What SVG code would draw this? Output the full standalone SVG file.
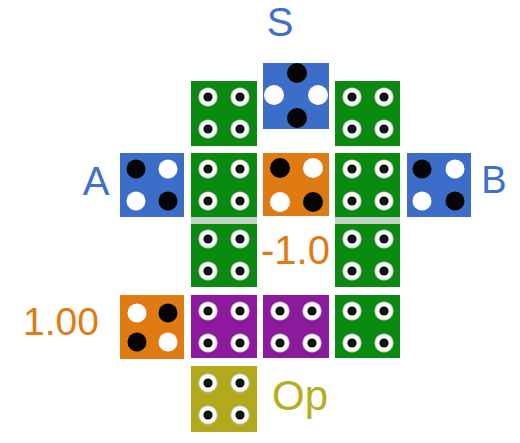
<svg xmlns="http://www.w3.org/2000/svg" xmlns:xlink="http://www.w3.org/1999/xlink" width="520" height="443" viewBox="0 0 520 443">
<style>
.green{fill:#0b8a10}
.purple{fill:#8c1a9c}
.olive{fill:#b2aa1c}
.orange{fill:#e07a12}
.blue{fill:#3c6ec9}
.lbl{font-family:"Liberation Sans",Arial,sans-serif}
.tb{fill:#3f6fcf}
.to{fill:#e07b14}
.tol{fill:#b5ae1e}
.bk{fill:#050505}
.wh{fill:#ffffff}
</style>
<defs>
<g id="hole">
<circle r="9.6" fill="#cfd8cf"/>
<circle r="8.4" fill="#ffffff"/>
<circle r="4.6" fill="#111111"/>
</g>
<g id="holes4">
<use xlink:href="#hole" href="#hole" x="17" y="16"/>
<use xlink:href="#hole" href="#hole" x="49" y="16"/>
<use xlink:href="#hole" href="#hole" x="17" y="48"/>
<use xlink:href="#hole" href="#hole" x="49" y="48"/>
</g>
</defs>
<rect width="520" height="443" fill="#ffffff"/>
<!-- gap strips -->
<rect x="191" y="216" width="66" height="8" fill="#c4d4c4"/>
<rect x="335" y="216" width="65" height="8" fill="#c4d4c4"/>
<text class="lbl to" x="261" y="264" font-size="40">-1.0</text>
<g id="g11"><rect class="green" x="191" y="81" width="66" height="65"/><use xlink:href="#holes4" href="#holes4" x="191" y="81"/></g>
<g id="g13"><rect class="green" x="335" y="81" width="65" height="65"/><use xlink:href="#holes4" href="#holes4" x="335" y="81"/></g>
<g id="g21"><rect class="green" x="191" y="153" width="66" height="64"/><use xlink:href="#holes4" href="#holes4" x="191" y="153"/></g>
<g id="g23"><rect class="green" x="335" y="153" width="65" height="64"/><use xlink:href="#holes4" href="#holes4" x="335" y="153"/></g>
<g id="g31"><rect class="green" x="191" y="224" width="66" height="63"/><use xlink:href="#holes4" href="#holes4" x="191" y="223"/></g>
<g id="g33"><rect class="green" x="335" y="224" width="65" height="63"/><use xlink:href="#holes4" href="#holes4" x="335" y="223"/></g>
<g id="g43"><rect class="green" x="335" y="295" width="65" height="63"/><use xlink:href="#holes4" href="#holes4" x="335" y="295"/></g>
<g id="p41"><rect class="purple" x="191" y="295" width="66" height="63"/><use xlink:href="#holes4" href="#holes4" x="191" y="295"/></g>
<g id="p42"><rect class="purple" x="263" y="295" width="66" height="63"/><use xlink:href="#holes4" href="#holes4" x="263" y="295"/></g>
<g id="op"><rect class="olive" x="191" y="366" width="66" height="66"/><use xlink:href="#holes4" href="#holes4" x="191" y="367"/><text class="lbl tol" x="272" y="410" font-size="42">Op</text></g>
<g id="S"><rect class="blue" x="263" y="63" width="66" height="66"/>
<circle class="bk" cx="297" cy="73" r="10"/><circle class="wh" cx="274" cy="95" r="10"/><circle class="wh" cx="318" cy="95" r="10"/><circle class="bk" cx="297" cy="118" r="10"/>
<text class="lbl tb" x="280" y="36" font-size="40" text-anchor="middle">S</text></g>
<g id="center"><rect class="orange" x="263" y="153" width="66" height="63"/>
<circle class="bk" cx="280" cy="168" r="10"/><circle class="wh" cx="313" cy="168" r="10"/><circle class="wh" cx="280" cy="202" r="10"/><circle class="bk" cx="313" cy="202" r="10"/></g>
<g id="A"><rect class="blue" x="120" y="153" width="64" height="64"/>
<circle class="bk" cx="136" cy="169" r="9.5"/><circle class="wh" cx="168" cy="169" r="9.5"/><circle class="wh" cx="136" cy="201" r="9.5"/><circle class="bk" cx="168" cy="201" r="9.5"/>
<text class="lbl tb" x="96" y="195" font-size="40" text-anchor="middle">A</text></g>
<g id="B"><rect class="blue" x="407" y="153" width="64" height="64"/>
<circle class="bk" cx="422" cy="169" r="9.5"/><circle class="wh" cx="455" cy="169" r="9.5"/><circle class="wh" cx="422" cy="201" r="9.5"/><circle class="bk" cx="455" cy="201" r="9.5"/>
<text class="lbl tb" x="494" y="193" font-size="38" text-anchor="middle">B</text></g>
<g id="one"><rect class="orange" x="120" y="295" width="64" height="64"/>
<circle class="wh" cx="137" cy="313" r="9.5"/><circle class="bk" cx="168" cy="313" r="9.5"/><circle class="bk" cx="137" cy="342" r="9.5"/><circle class="wh" cx="168" cy="342" r="9.5"/>
<text class="lbl to" x="23" y="335" font-size="39">1.00</text></g>
</svg>
